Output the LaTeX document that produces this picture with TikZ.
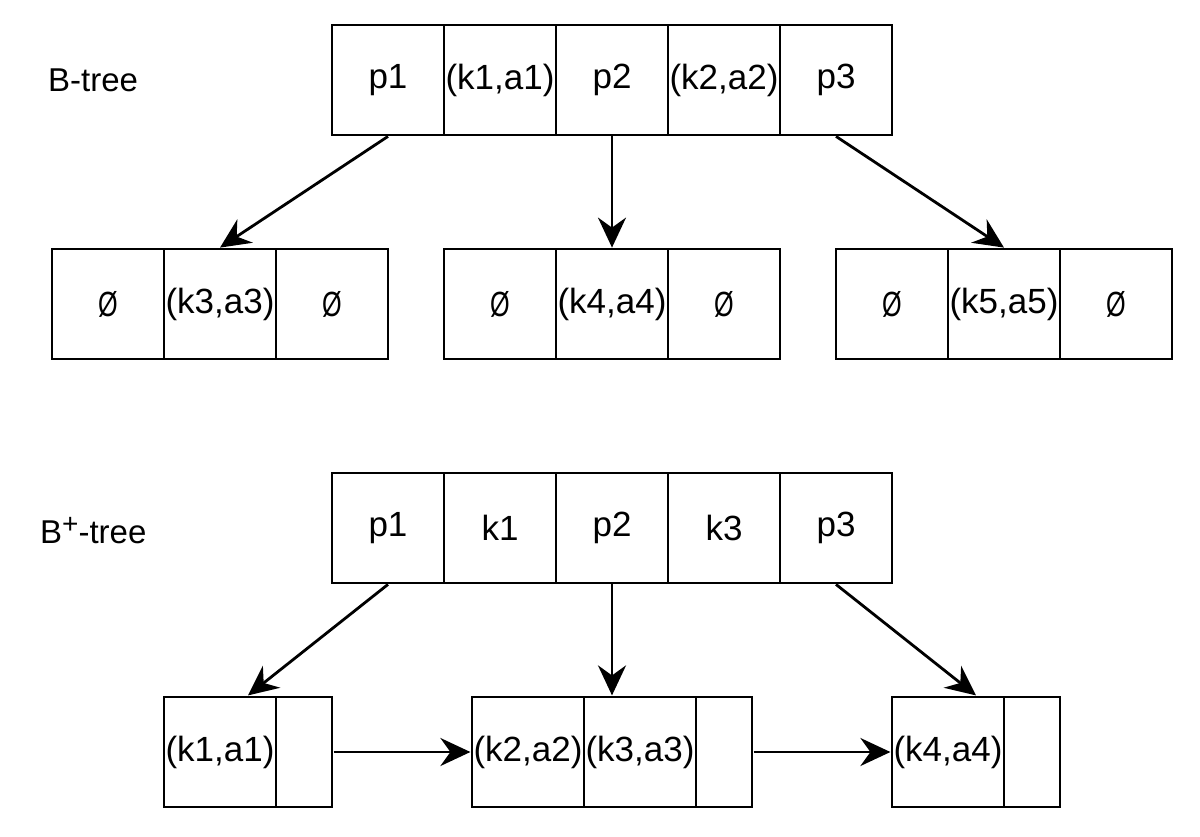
\documentclass[tikz,border=0pt]{standalone}
\usepackage{fontspec}
\setmainfont{Liberation Sans}
\usetikzlibrary{arrows.meta,fit}
\newcommand{\emptyslot}{\scalebox{0.72}[1]{Ø}}
\begin{document}
\begin{tikzpicture}[x=1pt,y=-1pt,
  cell/.style={draw,line width=2.8pt,rectangle,inner sep=0pt,minimum width=112pt,minimum height=110pt,font=\fontsize{35}{42}\selectfont},
  halfcell/.style={cell,minimum width=56pt},
  grp/.style={inner sep=0pt,draw=none},
  link/.style={line width=2.8pt,-{Stealth[length=30pt,width=28pt,inset=10pt]}},
  lbl/.style={anchor=west,inner sep=0pt,font=\fontsize{33}{40}\selectfont}]
\useasboundingbox (0,0) rectangle (1200,836);
% labels
\node[lbl] (lb1) at (48,80) {B-tree};
\node[lbl] (lb2) at (40,531) {B\raisebox{10pt}{\fontsize{28}{28}\selectfont +}-tree};
% B-tree root
\node[cell] (r1) at (388,80) {p1};
\node[cell] (r2) at (500,80) {(k1,a1)};
\node[cell] (r3) at (612,80) {p2};
\node[cell] (r4) at (724,80) {(k2,a2)};
\node[cell] (r5) at (836,80) {p3};
% B-tree children
\node[cell] (c11) at (108,304) {\emptyslot};
\node[cell] (c12) at (220,304) {(k3,a3)};
\node[cell] (c13) at (332,304) {\emptyslot};
\node[cell] (c21) at (500,304) {\emptyslot};
\node[cell] (c22) at (612,304) {(k4,a4)};
\node[cell] (c23) at (724,304) {\emptyslot};
\node[cell] (c31) at (892,304) {\emptyslot};
\node[cell] (c32) at (1004,304) {(k5,a5)};
\node[cell] (c33) at (1116,304) {\emptyslot};
\draw[link] (r1.south) -- (c12.north);
\draw[link] (r3.south) -- (c22.north);
\draw[link] (r5.south) -- (c32.north);
% B+-tree root
\node[cell] (s1) at (388,528) {p1};
\node[cell] (s2) at (500,528) {k1};
\node[cell] (s3) at (612,528) {p2};
\node[cell] (s4) at (724,528) {k3};
\node[cell] (s5) at (836,528) {p3};
% leaves
\node[cell] (l11) at (220,752) {(k1,a1)};
\node[halfcell] (l12) at (304,752) {};
\node[cell] (l21) at (528,752) {(k2,a2)};
\node[cell] (l22) at (640,752) {(k3,a3)};
\node[halfcell] (l23) at (724,752) {};
\node[cell] (l31) at (948,752) {(k4,a4)};
\node[halfcell] (l32) at (1032,752) {};
\node[grp,fit=(l11)(l12)] (leaf1) {};
\node[grp,fit=(l21)(l23)] (leaf2) {};
\node[grp,fit=(l31)(l32)] (leaf3) {};
\draw[link] (s1.south) -- (leaf1.north);
\draw[link] (s3.south) -- (leaf2.north);
\draw[link] (s5.south) -- (leaf3.north);
\draw[link] (leaf1.east) -- (leaf2.west);
\draw[link] (leaf2.east) -- (leaf3.west);
\end{tikzpicture}
\end{document}
